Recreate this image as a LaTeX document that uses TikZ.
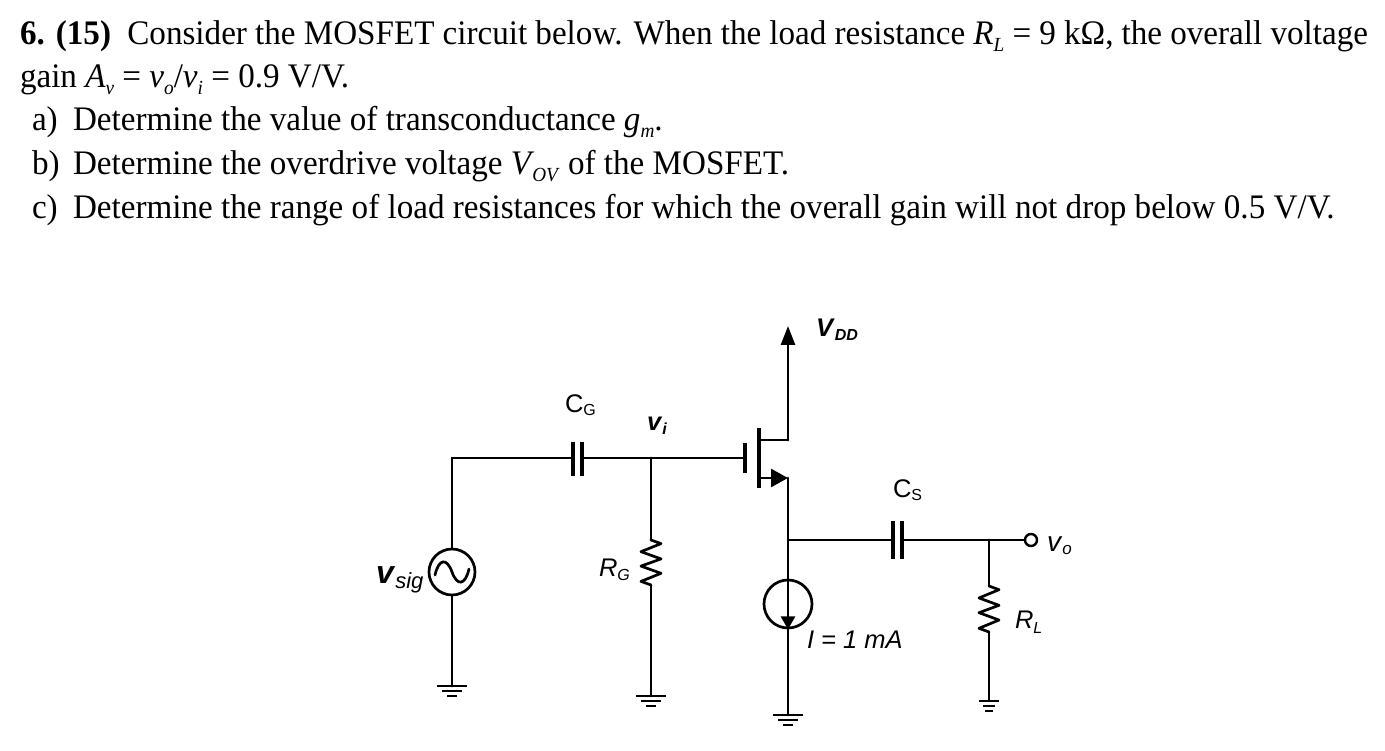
\documentclass[tikz,border=0pt]{standalone}
\usepackage{fontspec}
\usepackage{amsmath}
\setmainfont[FakeStretch=0.963]{Liberation Serif}
\newfontfamily\lsans{Liberation Sans}
\usetikzlibrary{arrows.meta,calc}
\newcommand{\bodyfs}{\fontsize{34.4}{40}\selectfont}
\newcommand{\subfs}{\fontsize{20}{24}\selectfont}
\newcommand{\labfs}{\fontsize{25.5}{28}\selectfont\lsans}
\newcommand{\slabfs}[1]{\fontsize{#1}{#1}\selectfont\lsans}
\newcommand{\ssub}[1]{\raisebox{-0.2em}{\subfs\textit{#1}}}
\tikzset{
  wire/.style={line width=2.7pt,line cap=round,line join=miter},
  thick wire/.style={line width=3.4pt},
  txt/.style={anchor=base west,inner sep=0pt,outer sep=0pt},
  srcnode/.style={circle,draw,line width=2.7pt,inner sep=0pt,fill=white},
  opennode/.style={circle,draw,line width=2.4pt,inner sep=0pt,minimum size=12pt,fill=white},
  pics/gnd/.style n args={3}{code={
    \draw[line width=2.8pt] (-#1,0) -- (#1,0);
    \draw[line width=2.8pt] (-#2,5) -- (#2,5);
    \draw[line width=2.8pt] (-#3,10) -- (#3,10);
  }},
  pics/zig/.style n args={2}{code={
    \draw[wire,line join=round] (0,0) -- (#1,0.08*#2) -- (-#1,0.26*#2) -- (#1,0.42*#2) -- (-#1,0.58*#2) -- (#1,0.74*#2) -- (-#1,0.92*#2) -- (0,#2);
  }}
}
\begin{document}
\begin{tikzpicture}[x=1pt,y=-1pt]
\useasboundingbox (0,0) rectangle (1385,751);
% problem statement
\node[txt] (l1) at (20,45) {\bodyfs\hbox to 1348pt{\textbf{6. (15)} \ Consider the MOSFET circuit below. When the load resistance \textit{R}\ssub{L} = 9 k\symbol{"03A9}, the overall voltage}};
\node[txt] (l2) at (20,88) {\bodyfs gain \textit{A}\ssub{v} = \textit{v}\ssub{o}/\textit{v}\ssub{i} = 0.9 V/V.};
\node[txt] (l3a) at (32,131) {\bodyfs a)};
\node[txt] (l3) at (73,131) {\bodyfs Determine the value of transconductance \textit{g}\ssub{m}.};
\node[txt] (l4a) at (32,175) {\bodyfs b)};
\node[txt] (l4) at (73,175) {\bodyfs Determine the overdrive voltage \textit{V}\kern-2pt\ssub{OV} of the MOSFET.};
\node[txt] (l5a) at (32,219) {\bodyfs c)};
\node[txt] (l5) at (73,219) {\bodyfs Determine the range of load resistances for which the overall gain will not drop below 0.5 V/V.};
% coordinates
\coordinate (top) at (788,326);
\coordinate (D) at (788,440);
\coordinate (Dc) at (759,440);
\coordinate (chT) at (759,428);
\coordinate (chB) at (759,488);
\coordinate (Sc) at (759,478);
\coordinate (S) at (788,478);
\coordinate (gT) at (745,443);
\coordinate (gB) at (745,473);
\coordinate (G) at (745,458);
\coordinate (J1) at (651,458);
\coordinate (Cg1) at (573,458);
\coordinate (Cg2) at (582,458);
\coordinate (corner) at (452,458);
\coordinate (J2) at (788,540);
\coordinate (Cs1) at (893,540);
\coordinate (Cs2) at (902,540);
\coordinate (J3) at (989,540);
\coordinate (Rg1) at (651,540);
\coordinate (Rg2) at (651,585);
\coordinate (Rl1) at (989,586);
\coordinate (Rl2) at (989,632);
\coordinate (g1) at (452,686);
\coordinate (g2) at (651,696);
\coordinate (g3) at (788,715);
\coordinate (g4) at (989,701);
% sources
\node[srcnode,minimum size=46pt] (vs) at (452,572) {};
\node[srcnode,minimum size=48pt,fill=none] (is) at (788,604) {};
\node[opennode] (vo) at (1031,540) {};
% sine
\draw[wire] ($(vs.center)+(-17,3)$) .. controls ($(vs.center)+(-13,-14)$) and ($(vs.center)+(-5,-14)$) .. (vs.center) .. controls ($(vs.center)+(5,14)$) and ($(vs.center)+(13,14)$) .. ($(vs.center)+(17,-3)$);
% wires
\draw[wire,-{Triangle[length=19pt,width=14pt]}] (D) -- (top);
\draw[wire] (Dc) -- (D);
\draw[thick wire] (chT) -- (chB);
\draw[thick wire] (gT) -- (gB);
\draw[wire] (Sc) -- ++(12,0);
\draw[wire,-{Triangle[length=17pt,width=18pt]}] (Sc) -- (S);
\draw[wire] (S) -- (J2) -- (is.center);
\draw[wire,-{Triangle[length=13pt,width=14pt]}] (is.center) -- (is.south);
\draw[wire] (is.south) -- (g3);
\draw[wire] (J2) -- (Cs1);
\draw[wire] (Cs2) -- (J3) -- (vo.west);
\draw[wire] (J3) -- (Rl1);
\draw[wire] (Rl2) -- (g4);
\draw[wire] (vs.north) -- (corner) -- (Cg1);
\draw[wire] (Cg2) -- (J1) -- (G);
\draw[wire] (J1) -- (Rg1);
\draw[wire] (Rg2) -- (g2);
\draw[wire] (vs.south) -- (g1);
% capacitors
\draw[line width=3.6pt] (573,442) -- (573,476);
\draw[line width=3.6pt] (582,442) -- (582,476);
\draw[line width=4pt] (893,521) -- (893,559);
\draw[line width=4pt] (902,521) -- (902,559);
% resistors
\pic at (Rg1) {zig={10}{45}};
\pic at (Rl1) {zig={10}{46}};
% grounds
\pic at (g1) {gnd={15}{10}{5}};
\pic at (g2) {gnd={15}{10}{5}};
\pic at (g3) {gnd={15}{10}{5}};
\pic at (g4) {gnd={10}{6}{4}};
% labels
\node[txt] (lVDD) at (816,337) {\labfs\textbf{\textit{V}}\raisebox{-4pt}{\slabfs{16}\textbf{\textit{DD}}}};
\node[txt] (lCG) at (565,413) {\labfs C\raisebox{-3pt}{\slabfs{16}G}};
\node[txt] (lvi) at (647,430) {\labfs\textbf{\textit{v}}\raisebox{-4pt}{\slabfs{16}\textbf{\textit{i}}}};
\node[txt] (lCS) at (893,497) {\labfs C\raisebox{-3pt}{\slabfs{16}S}};
\node[txt] (lvo) at (1047,551) {\fontsize{28}{28}\selectfont\lsans\textit{v}\raisebox{-3pt}{\slabfs{17}\textit{o}}};
\node[txt] (lRL) at (1015,628) {\labfs\textit{R}\raisebox{-5pt}{\slabfs{16}\textit{L}}};
\node[txt] (lRG) at (599,576) {\labfs\textit{R}\raisebox{-4pt}{\slabfs{16}\textit{G}}};
\node[txt] (lI) at (807,648) {\labfs\textit{I = 1 mA}};
\node[txt] (lvs) at (376,583) {\slabfs{32}\textbf{\textit{v}}\raisebox{-5pt}{\slabfs{22}\textit{sig}}};
\end{tikzpicture}
\end{document}
